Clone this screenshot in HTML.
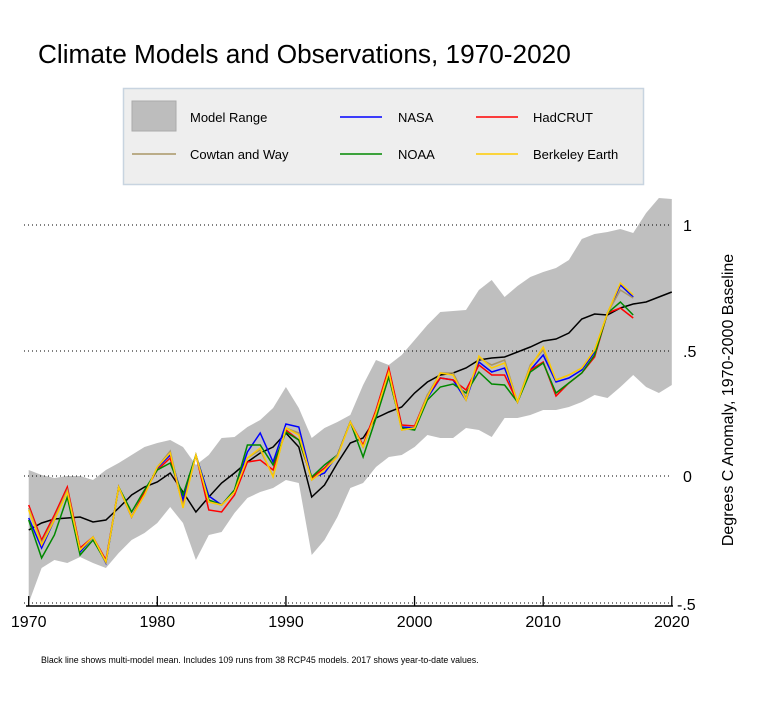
<!DOCTYPE html>
<html><head><meta charset="utf-8"><style>
body{margin:0;background:#fff;}
svg{display:block;font-family:"Liberation Sans",sans-serif;}
</style></head><body>
<svg id="s" width="768" height="704" viewBox="0 0 768 704" xmlns="http://www.w3.org/2000/svg">
<text x="38" y="63" font-size="26.2" fill="#000">Climate Models and Observations, 1970-2020</text>
<rect x="123.5" y="88.5" width="520" height="96" fill="#eeeeee" stroke="#c8d4e0" stroke-width="1.5"/>
<rect x="132" y="101" width="44" height="30" fill="#bdbdbd" stroke="#aaa"/>
<text x="190" y="122" font-size="13">Model Range</text>
<line x1="340" y1="117" x2="382" y2="117" stroke="#0000ff" stroke-width="1.5"/>
<text x="398" y="122" font-size="13">NASA</text>
<line x1="476" y1="117" x2="518" y2="117" stroke="#ff0000" stroke-width="1.5"/>
<text x="533" y="122" font-size="13">HadCRUT</text>
<line x1="132" y1="154" x2="176" y2="154" stroke="#a89566" stroke-width="1.5"/>
<text x="190" y="159" font-size="13">Cowtan and Way</text>
<line x1="340" y1="154" x2="382" y2="154" stroke="#008800" stroke-width="1.5"/>
<text x="398" y="159" font-size="13">NOAA</text>
<line x1="476" y1="154" x2="518" y2="154" stroke="#ffcc00" stroke-width="1.5"/>
<text x="533" y="159" font-size="13">Berkeley Earth</text>
<g id="plot"></g>
<g font-size="16" fill="#000">
<text x="683" y="231">1</text><text x="683" y="357">.5</text><text x="683" y="482">0</text><text x="677" y="610">-.5</text>
<text x="28.7" y="627" text-anchor="middle">1970</text>
<text x="157.3" y="627" text-anchor="middle">1980</text>
<text x="286" y="627" text-anchor="middle">1990</text>
<text x="414.6" y="627" text-anchor="middle">2000</text>
<text x="543.2" y="627" text-anchor="middle">2010</text>
<text x="671.8" y="627" text-anchor="middle">2020</text>
<text transform="translate(733,400) rotate(-90)" text-anchor="middle">Degrees C Anomaly, 1970-2000 Baseline</text>
</g>
<text x="41" y="663" font-size="8.8">Black line shows multi-model mean. Includes 109 runs from 38 RCP45 models. 2017 shows year-to-date values.</text>
</svg>
<script>
var X=function(i){return 28.7+12.862*i;};
var up=[470,475,478,476,476,480,470,463,455,447,443,440,447,465,455,438,437,427,420,408,387,408,438,428,422,415,385,360,365,355,340,325,312,311,310,290,280,297,286,277,272,268,260,239,234,232,229,233,213,198,199];
var lo=[603,568,560,563,557,563,568,553,540,533,523,507,523,560,535,532,513,498,492,488,480,483,555,540,517,488,483,467,457,455,447,435,438,438,428,430,437,418,418,415,410,410,407,402,395,398,387,375,387,393,385];
var mean=[530,523,519,518,517,522,520,508,495,487,482,473,492,512,497,483,473,462,453,447,433,447,497,485,463,443,438,418,412,407,393,382,375,373,368,360,358,357,352,347,341,339,333,319,314,315,308,304,302,297,292];
var Y=[510,545,520,492,550,537,562,487,517,495,467,453,508,455,502,505,492,458,448,477,428,435,480,470,457,422,447,413,372,430,428,397,373,375,400,356,368,363,402,367,347,380,375,368,350,313,283,295];
var R=[505,540,515,487,548,537,560,487,517,492,470,458,505,455,510,512,495,462,460,470,430,440,478,468,455,422,445,410,368,425,426,395,378,380,390,365,375,375,402,370,362,396,383,373,357,313,308,318];
var G=[520,558,535,497,555,540,562,487,512,490,470,463,495,455,500,505,490,445,445,465,432,440,477,465,455,422,457,418,377,428,430,400,387,384,393,372,384,385,402,372,363,393,383,373,355,313,302,315];
var B=[518,548,520,490,552,537,563,487,517,493,468,455,500,455,496,505,490,452,433,462,424,427,478,473,455,422,447,413,375,427,428,398,378,380,400,362,372,368,402,370,355,382,378,370,352,313,285,297];
var C=[508,543,518,490,550,537,562,487,517,495,467,451,506,455,502,505,492,458,450,476,428,433,480,470,455,422,447,413,372,430,428,395,373,373,398,358,365,360,402,365,350,380,375,368,350,313,290,298];
function pts(a){return a.map(function(v,i){return X(i).toFixed(1)+","+v;}).join(" ");}
var h="";
var poly=up.map(function(v,i){return X(i).toFixed(1)+","+v;}).concat(lo.map(function(v,i){return X(i).toFixed(1)+","+v;}).reverse()).join(" ");
h+='<polygon points="'+poly+'" fill="#bfbfbf"/>';
[225,351,476,603].forEach(function(y){h+='<line x1="24" y1="'+y+'" x2="672" y2="'+y+'" stroke="#000" stroke-width="1" stroke-dasharray="1,3"/>';});
h+='<polyline points="'+pts(mean)+'" fill="none" stroke="#000" stroke-width="1.5"/>';
[[B,"#0000ff"],[R,"#ff0000"],[G,"#008800"],[C,"#a89566"],[Y,"#ffcc00"]].forEach(function(s){h+='<polyline points="'+pts(s[0])+'" fill="none" stroke="'+s[1]+'" stroke-width="1.5"/>';});
h+='<line x1="26" y1="606" x2="673" y2="606" stroke="#000" stroke-width="1.5"/>';
for(var i=0;i<=5;i++){var x=X(i*10);h+='<line x1="'+x+'" y1="596" x2="'+x+'" y2="606" stroke="#000" stroke-width="1.3"/>';}
document.getElementById("plot").innerHTML=h;
</script>
</body></html>
